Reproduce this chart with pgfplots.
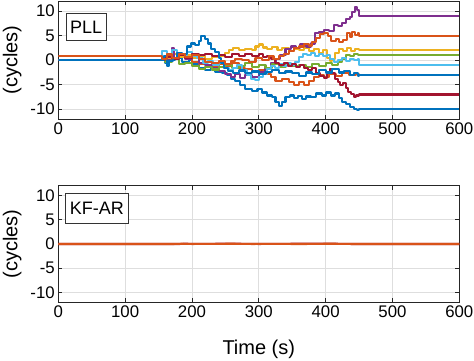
\documentclass[border=0pt]{standalone}
\usepackage{pgfplots}
\pgfplotsset{compat=1.18}
\usepackage{fontspec}
\setmainfont{Liberation Sans}
\definecolor{c1}{RGB}{0,114,189}
\definecolor{c2}{RGB}{217,83,25}
\definecolor{c3}{RGB}{237,177,32}
\definecolor{c4}{RGB}{126,47,142}
\definecolor{c5}{RGB}{119,172,48}
\definecolor{c6}{RGB}{77,190,238}
\definecolor{c7}{RGB}{162,20,47}
\pgfplotsset{every axis plot/.append style={line width=2.1pt, line join=round}}
\pgfplotsset{mystyle/.style={
  scale only axis, width=401pt, height=117.6pt,
  xmin=0, xmax=600, ymin=-12, ymax=12,
  xtick={0,100,...,600}, ytick={-10,-5,0,5,10},
  grid=major, grid style={color=black!13, line width=0.6pt},
  axis line style={black!85, line width=0.7pt},
  tick style={black!85, line width=0.6pt},
  major tick length=4pt, tick align=inside,
  xtick pos=both, ytick pos=both,
  ticklabel style={font=\fontsize{16.8}{18}\selectfont},
  /pgf/number format/assume math mode=true,
  ylabel={(cycles)},
  every axis y label/.style={at={(axis description cs:-0.115,0.5)}, rotate=90, anchor=center, font=\fontsize{20}{22}\selectfont},
  every axis x label/.style={at={(axis description cs:0.5,-0.4)}, anchor=center, font=\fontsize{20}{22}\selectfont},
}}
\begin{document}
\begin{tikzpicture}
\begin{axis}[mystyle, at={(58.3pt,-119pt)}, anchor=south west]
% series 1 blue (final -10)
\addplot[c1, const plot, line width=2.1pt] coordinates {(0,0) (150,0) (155,0.3) (160,-0.5) (165,0) (175,0.4) (185,-0.3) (195,0) (200,-0.8) (210,-1.5) (220,-2) (228,-1.6) (235,-2.3) (245,-2.6) (252,-3) (258,-3.8) (265,-4.3) (272,-5) (280,-5.8) (290,-6.2) (298,-5.8) (305,-6.6) (312,-7.2) (320,-7.6) (325,-8.5) (330,-9.3) (335,-8.6) (340,-7.6) (347,-7.2) (352,-7.8) (358,-7.3) (365,-8) (370,-7.4) (378,-7.6) (385,-6.8) (395,-7.2) (400,-6.6) (408,-7.2) (414,-6.8) (420,-7.8) (425,-8.5) (430,-9) (437,-9.6) (442,-10) (447,-10.2) (450,-10) (600,-10)};
% series 2 orange (final -3)
\addplot[c2, const plot, line width=2.1pt] coordinates {(0,0) (150,0) (160,0.8) (170,0.2) (180,0.9) (190,0.4) (200,-0.3) (210,-0.8) (220,-0.4) (230,-1.1) (240,-0.8) (250,-1.2) (260,-0.6) (270,-1.5) (280,-1.8) (290,-2.4) (300,-2.0) (310,-2.8) (318,-3.5) (325,-4.2) (335,-3.8) (345,-4.4) (352,-5.0) (360,-4.5) (368,-5.1) (375,-4.2) (382,-3.5) (390,-3.0) (398,-3.4) (405,-2.8) (415,-3.2) (425,-2.7) (435,-3.1) (445,-2.9) (450,-3) (600,-3)};
% series 3 yellow (final 2)
\addplot[c3, const plot, line width=2.1pt] coordinates {(0,0) (150,0) (160,0.5) (170,1.2) (180,0.6) (190,1.0) (200,0.4) (210,0.9) (220,0.2) (230,0.6) (240,0.9) (250,1.5) (255,2.0) (262,2.4) (270,2.0) (280,2.3) (290,2.0) (295,2.8) (300,3.2) (306,2.6) (312,2.2) (320,2.7) (328,2.0) (335,2.4) (345,1.8) (352,2.2) (360,2.0) (368,2.5) (375,1.8) (382,2.2) (390,1.5) (396,2.0) (402,0.5) (406,-0.2) (410,0.3) (414,1.4) (420,2.2) (426,1.8) (432,2.4) (438,1.9) (444,2.3) (450,2) (600,2)};
% series 4 purple (final 9)
\addplot[c4, const plot, line width=2.1pt] coordinates {(0,0) (150,0) (168,0) (170,2.5) (173,0.5) (180,1) (190,0.3) (200,0.8) (210,-0.5) (220,-1) (230,-1.5) (240,-2.2) (250,-2.8) (258,-3.4) (265,-2.8) (272,-3.6) (280,-3.0) (290,-3.4) (300,-2.5) (310,-1.5) (318,-0.6) (325,0.2) (332,1.1) (340,2.2) (348,2.8) (355,2.4) (362,3.2) (370,2.8) (378,3.4) (384,5.5) (390,5.8) (398,6.2) (405,6.0) (412,7.2) (418,7.0) (424,7.6) (430,8.4) (436,8.8) (440,9.8) (444,10.8) (447,10.2) (450,9) (600,9)};
% series 5 green (final 1)
\addplot[c5, const plot, line width=2.1pt] coordinates {(0,0) (150,0) (160,-0.4) (170,0.3) (180,-0.8) (190,-0.5) (200,-1.2) (210,-1.8) (220,-1.3) (230,-1.9) (240,-1.4) (250,-1.0) (260,-1.6) (270,-1.2) (280,-0.6) (290,-1.4) (300,-1.0) (310,-1.6) (320,-0.8) (330,-1.3) (340,-0.7) (350,-1.2) (360,-0.9) (370,-1.4) (380,-0.8) (390,-1.2) (400,-0.6) (410,-1.0) (418,-0.4) (424,0.2) (430,1.0) (436,0.8) (442,1.3) (448,1.0) (450,1) (600,1)};
% series 6 light blue (final -1)
\addplot[c6, const plot, line width=2.1pt] coordinates {(0,0) (150,0) (155,1.8) (162,1.2) (170,2.0) (178,1.5) (185,1.0) (192,1.6) (200,0.9) (208,0.4) (216,-0.5) (224,-0.2) (232,-1.0) (240,-0.6) (248,-1.5) (255,-2.1) (262,-1.6) (268,-1.0) (275,-2.0) (282,-3.0) (288,-3.8) (294,-4.1) (300,-3.4) (306,-2.8) (312,-1.8) (318,-1.2) (324,-1.6) (330,-0.8) (336,-1.2) (342,-0.6) (348,-1.0) (354,-0.4) (360,0.6) (366,1.2) (372,1.0) (378,1.4) (384,0.9) (390,1.2) (396,0.8) (402,1.1) (406,0.2) (412,-0.3) (418,0.1) (424,0.4) (430,-0.1) (436,0.3) (442,0) (448,0.2) (450,-1) (600,-1)};
% series 7 red (final -7)
\addplot[c7, const plot, line width=2.1pt] coordinates {(0,0) (150,0) (160,0.7) (170,0.2) (180,1.0) (190,0.5) (200,1.2) (210,1.0) (220,1.3) (230,0.8) (240,1.1) (250,0.7) (260,1.3) (270,0.9) (280,1.2) (290,0.8) (300,1.3) (306,0.6) (312,0.9) (318,0.3) (324,-0.5) (330,-1.0) (338,-0.5) (344,-1.2) (350,-0.8) (356,-1.4) (362,-0.9) (368,-1.5) (374,-2.0) (380,-1.6) (386,-2.6) (392,-3.2) (398,-3.6) (402,-2.5) (406,-1.8) (410,-2.6) (414,-3.8) (418,-4.4) (422,-5.0) (426,-4.6) (430,-5.6) (434,-6.4) (438,-6.9) (442,-7.6) (446,-7.2) (450,-7) (600,-7)};
% series 8 blue (final -3)
\addplot[c1, const plot, line width=2.1pt] coordinates {(0,0) (150,0) (158,0.8) (162,-1.2) (166,-0.2) (172,0.5) (178,1.5) (185,1.2) (192,2.8) (198,3.4) (205,3.1) (210,4.0) (214,4.9) (220,4.4) (224,3.4) (228,2.3) (234,1.6) (240,0.4) (244,-0.5) (248,-1.6) (254,-2.2) (262,-2.6) (270,-2.1) (280,-2.7) (290,-2.3) (300,-2.8) (310,-2.4) (320,-2.0) (330,-2.6) (340,-2.3) (350,-2.7) (360,-3.2) (370,-2.5) (380,-2.8) (390,-2.0) (400,-2.5) (410,-1.8) (420,-2.5) (428,-2.2) (436,-3.0) (442,-2.7) (448,-3.2) (450,-3) (600,-3)};
% series 9 orange (final 5)
\addplot[c2, const plot, line width=2.1pt] coordinates {(0,0.9) (150,0.9) (155,0.2) (162,1.2) (170,0.5) (180,1.3) (190,0.7) (200,1.0) (210,0.2) (220,-0.3) (230,-0.6) (240,-0.2) (250,-0.8) (258,-0.2) (265,0.3) (275,0) (285,-0.3) (295,0.4) (305,0.1) (315,0.8) (322,0.3) (330,0.8) (338,1.3) (345,1.8) (352,2.4) (360,2.8) (368,3.3) (375,3.0) (380,3.8) (386,4.6) (392,5.3) (398,5.6) (404,5.0) (408,4.0) (415,4.3) (420,3.8) (426,4.2) (432,5.5) (436,4.8) (440,5.8) (444,5.2) (448,5.6) (450,5) (600,5)};
\node[draw=black!80, line width=0.6pt, fill=white, anchor=north west, minimum width=40pt, minimum height=27pt, inner sep=0pt, font=\fontsize{18}{20}\selectfont] at (rel axis cs:0.0185,0.901) {PLL};
\end{axis}
\begin{axis}[mystyle, at={(58.3pt,-302.3pt)}, anchor=south west, height=116.6pt, xlabel={Time (s)}]
\addplot[c1, line width=2.1pt] coordinates {(0,0) (600,0)};
\addplot[c3, line width=2.1pt] coordinates {(0,0) (600,0)};
\addplot[c5, line width=2.1pt] coordinates {(0,0) (600,0)};
\addplot[c7, line width=2.1pt] coordinates {(0,0) (180,0) (190,0.06) (200,0.02) (260,0.06) (300,0.01) (400,0.08) (430,0.02) (450,0) (600,0)};
\addplot[c2, line width=2.1pt] coordinates {(0,0) (170,0) (185,0.05) (200,0.01) (230,0.03) (260,0.05) (290,0.01) (330,0.03) (360,0.0) (390,0.03) (405,0.06) (430,0.02) (450,0) (600,0)};
\node[draw=black!80, line width=0.6pt, fill=white, anchor=north west, minimum width=63pt, minimum height=30pt, inner sep=0pt, font=\fontsize{18}{20}\selectfont] at (rel axis cs:0.0167,0.937) {KF-AR};
\end{axis}
\pgfresetboundingbox
\path[use as bounding box] (0pt,0pt) rectangle (474pt,-360pt);
\end{tikzpicture}
\end{document}
